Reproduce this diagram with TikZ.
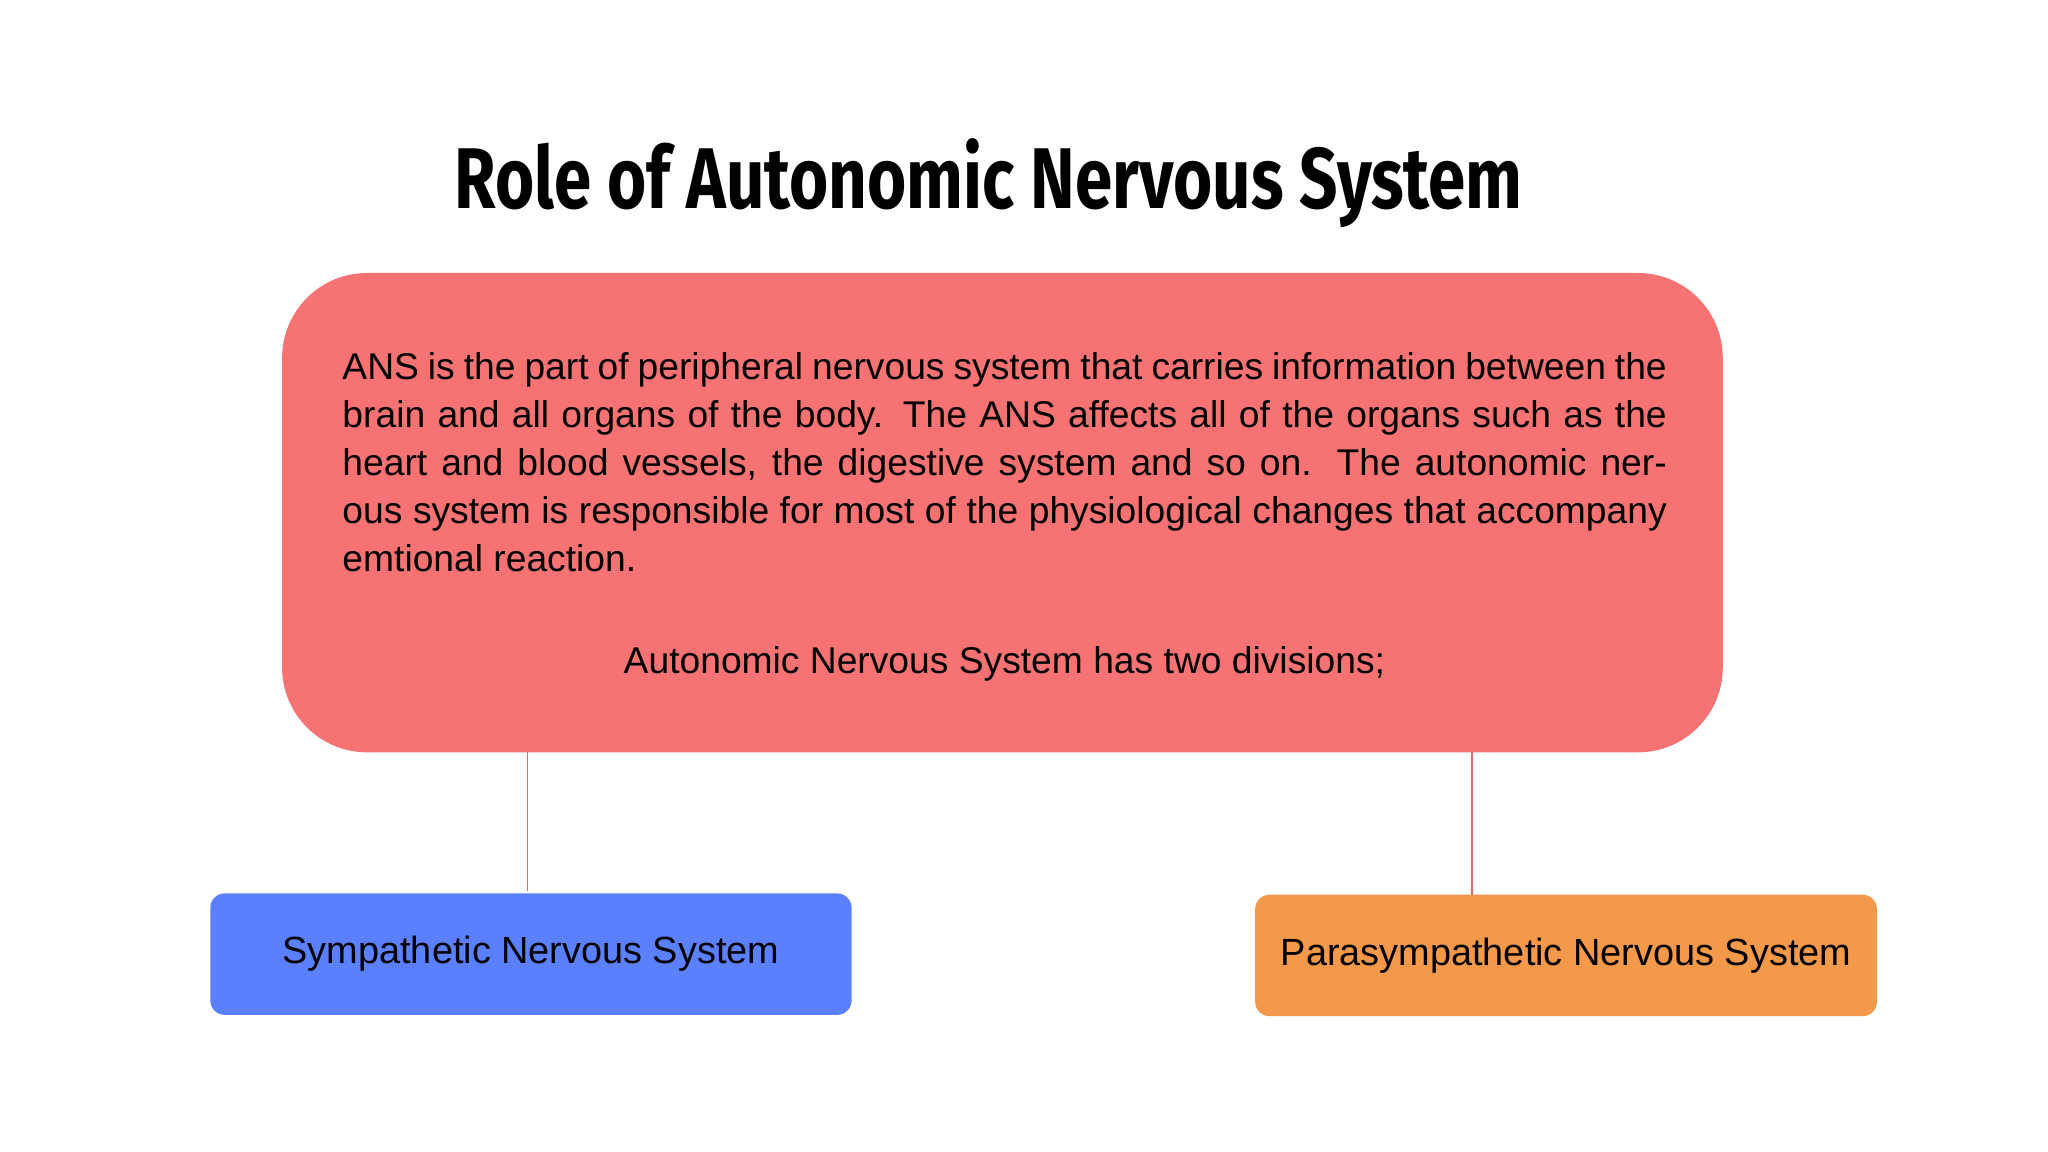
\documentclass[tikz,border=0pt]{standalone}
\usepackage{fontspec}
\setmainfont{Liberation Sans}
\newfontfamily\titlefont[FakeStretch=0.78]{Fira Sans}
\definecolor{mainred}{HTML}{F77373}
\definecolor{sblue}{HTML}{5B80FF}
\definecolor{porange}{HTML}{F4984A}
\definecolor{linered}{HTML}{E06870}
\begin{document}
\begin{tikzpicture}[x=1pt,y=-1pt,
  divbox/.style={rounded corners=11pt,font=\fontsize{29}{34}\selectfont,text=black}]
\useasboundingbox (0,0) rectangle (1568,882);
\fill[white] (0,0) rectangle (1568,882);
\node[font=\titlefont\bfseries\fontsize{66}{72}\selectfont] (title) at (757,140) {Role of Autonomic Nervous System};
\fill[mainred,rounded corners=65pt] (216,209) rectangle (1319,576);
\coordinate (mainbl) at (404,576);
\coordinate (mainbr) at (1127,576);
\node[text width=1014pt,align=justify,anchor=north west,inner sep=0pt,
  font=\fontsize{28.5}{36.6}\selectfont] (body) at (262,270)
 {ANS is the part of peripheral nervous system that carries information between the brain and all organs of the body. The ANS affects all of the organs such as the heart and blood vessels, the digestive system and so on. The autonomic nerous system is responsible for most of the physiological changes that accompany emtional reaction.};
\node[font=\fontsize{28.5}{34}\selectfont] (two) at (769,508) {Autonomic Nervous System has two divisions;};
\node[divbox,fill=sblue,minimum width=491pt,minimum height=93pt] (symp) at (406.5,730.5) {Sympathetic Nervous System};
\node[divbox,fill=porange,minimum width=476pt,minimum height=93pt] (para) at (1199,731.5) {Parasympathetic Nervous System};
\draw[linered,line width=1pt] (mainbl) -- (404,682);
\draw[linered,line width=1pt] (mainbr) -- (1127,685);
\end{tikzpicture}
\end{document}
